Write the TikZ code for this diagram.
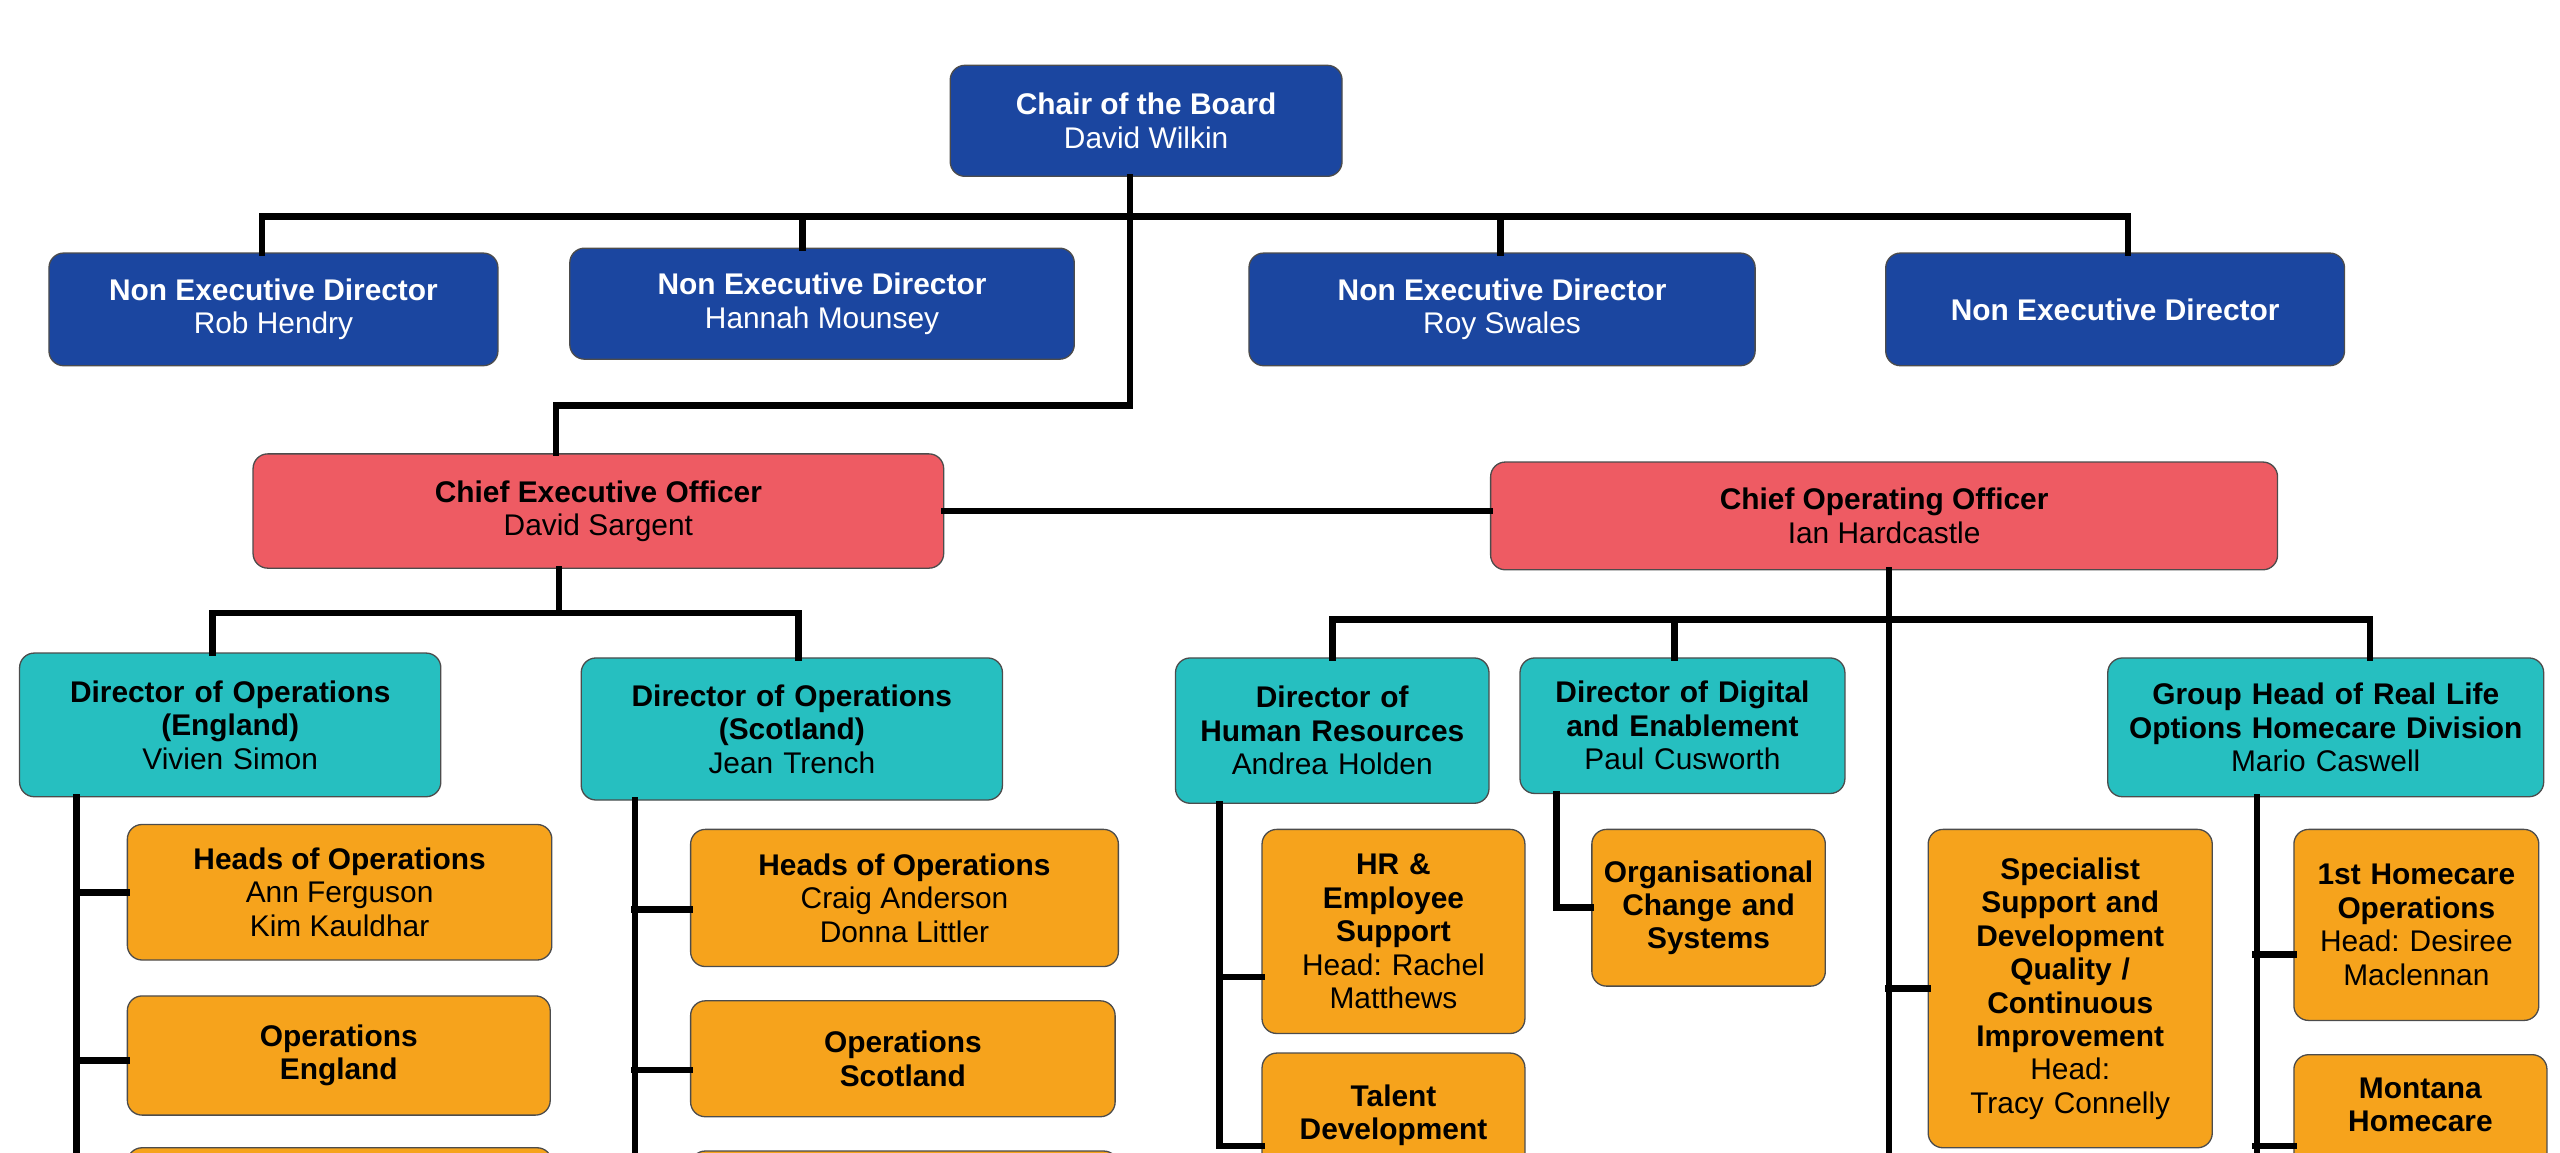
\documentclass[tikz,border=0pt]{standalone}
\usepackage{fontspec}
\setmainfont{Liberation Sans}
\frenchspacing
\definecolor{navy}{HTML}{1B46A0}
\definecolor{cred}{HTML}{EE5B63}
\definecolor{teal}{HTML}{26BFC0}
\definecolor{orng}{HTML}{F6A31C}
\tikzset{
 bx/.style={draw=black!70,line width=0.8pt,rounded corners=9pt,align=center,inner sep=2pt,font=\fontsize{18.3}{20.5}\selectfont},
 nv/.style={bx,fill=navy,text=white},
 rd/.style={bx,fill=cred,text=black},
 tl/.style={bx,fill=teal,text=black},
 og/.style={bx,fill=orng,text=black},
 ln/.style={line width=4pt,line cap=rect}
}
\begin{document}
\begin{tikzpicture}[x=1pt,y=-1pt]
\useasboundingbox (0,0) rectangle (1568,706);
\begin{scope}
\clip (0,0) rectangle (1568,706);
\node[nv,minimum width=240,minimum height=68] (chair) at (702,74) {\textbf{Chair of the Board}\\David Wilkin};
\node[nv,minimum width=275,minimum height=69] (ned1) at (167.5,189.5) {\textbf{Non Executive Director}\\Rob Hendry};
\node[nv,minimum width=309,minimum height=68] (ned2) at (503.5,186) {\textbf{Non Executive Director}\\Hannah Mounsey};
\node[nv,minimum width=310,minimum height=69] (ned3) at (920,189.5) {\textbf{Non Executive Director}\\Roy Swales};
\node[nv,minimum width=281,minimum height=69] (ned4) at (1295.5,189.5) {\textbf{Non Executive Director}};
\node[rd,minimum width=423,minimum height=70] (ceo) at (366.5,313) {\textbf{Chief Executive Officer}\\David Sargent};
\node[rd,minimum width=482,minimum height=66] (coo) at (1154,316) {\textbf{Chief Operating Officer}\\Ian Hardcastle};
\node[tl,minimum width=258,minimum height=88,text width=254] (doe) at (141,444) {\textbf{Director of Operations\\(England)}\\Vivien Simon};
\node[tl,minimum width=258,minimum height=87,text width=254] (dos) at (485,446.5) {\textbf{Director of Operations\\(Scotland)}\\Jean Trench};
\node[tl,minimum width=192,minimum height=89,text width=188] (dhr) at (816,447.5) {\textbf{Director of\\Human Resources}\\Andrea Holden};
\node[tl,minimum width=199,minimum height=83,text width=195] (dde) at (1030.5,444.5) {\textbf{Director of Digital\\and Enablement}\\Paul Cusworth};
\node[tl,minimum width=267,minimum height=85,text width=263] (grp) at (1424.5,445.5) {\textbf{Group Head of Real Life\\Options Homecare Division}\\Mario Caswell};
\node[og,minimum width=260,minimum height=83] (hoe) at (208,546.5) {\textbf{Heads of Operations}\\Ann Ferguson\\Kim Kauldhar};
\node[og,minimum width=259,minimum height=73] (ope) at (207.5,646.5) {\textbf{Operations}\\\textbf{England}};
\node[og,minimum width=260,minimum height=74] (e3) at (208,740) {};
\node[og,minimum width=262,minimum height=84] (hos) at (554,550) {\textbf{Heads of Operations}\\Craig Anderson\\Donna Littler};
\node[og,minimum width=260,minimum height=71] (ops) at (553,648.5) {\textbf{Operations}\\\textbf{Scotland}};
\node[og,minimum width=262,minimum height=74] (s3) at (554,742) {};
\node[og,minimum width=161,minimum height=125,text width=157] (hr) at (853.5,570.5) {\textbf{HR \&\\Employee\\Support}\\Head: Rachel\\Matthews};
\node[og,minimum width=161,minimum height=110] (tal) at (853.5,700) {};
\node[anchor=north,align=center,font=\fontsize{18.3}{20.5}\selectfont,inner sep=0] (talt) at (853.5,664) {\textbf{Talent}\\\textbf{Development}};
\node[og,minimum width=143,minimum height=96,text width=139] (org) at (1046.5,556) {\textbf{Organisational\\Change and\\Systems}};
\node[og,minimum width=174,minimum height=195,text width=170] (spec) at (1268,605.5) {\textbf{Specialist\\Support and\\Development\\Quality /\\Continuous\\Improvement}\\Head:\\Tracy Connelly};
\node[og,minimum width=150,minimum height=117,text width=146] (h1) at (1480,566.5) {\textbf{1st Homecare\\Operations}\\Head: Desiree\\Maclennan};
\node[og,minimum width=155,minimum height=110] (mon) at (1482.5,701) {};
\node[anchor=north,align=center,font=\fontsize{18.3}{20.5}\selectfont,inner sep=0] (mont) at (1482.5,660) {\textbf{Montana}\\\textbf{Homecare}};
% connectors
\draw[ln] ([xshift=-10pt]chair.south) -- ++(0,140) -| ([xshift=-26pt]ceo.north);
\draw[ln] ([xshift=-7pt]ned1.north) -- ++(0,-22) -| ([xshift=8pt]ned4.north);
\draw[ln] ([xshift=-12pt]ned2.north) -- ++(0,-19);
\draw[ln] ([xshift=-1pt]ned3.north) -- ++(0,-22);
\draw[ln] (ceo.east) -- (coo.west |- ceo.east);
\draw[ln] ([xshift=-24pt]ceo.south) -- ++(0,27) coordinate (cb);
\draw[ln] ([xshift=-11pt]doe.north) |- (cb) -| ([xshift=4pt]dos.north);
\draw[ln] (dhr.north) -- ++(0,-23) coordinate (ob1);
\draw[ln] (ob1) -| ([xshift=27pt]grp.north);
\draw[ln] ([xshift=-5pt]dde.north) -- ++(0,-23);
\draw[ln] ([xshift=3pt]coo.south) -- ++(0,360);
\draw[ln] (spec.west) -- ++(-24,0);
\draw[ln] ([xshift=-94pt]doe.south) -- ++(0,230);
\draw[ln] (hoe.west) -- ++(-31,0);
\draw[ln] ([yshift=-3pt]ope.west) -- ++(-31,0);
\draw[ln] ([xshift=-96pt]dos.south) -- ++(0,230);
\draw[ln] ([yshift=-7pt]hos.west) -- ++(-34,0);
\draw[ln] ([yshift=-7pt]ops.west) -- ++(-34,0);
\draw[ln] ([xshift=-69pt]dhr.south) |- ([yshift=-2pt]tal.west);
\draw[ln] ([yshift=-28pt]hr.west) -- ++(-26,0);
\draw[ln] ([xshift=-77pt]dde.south) |- (org.west);
\draw[ln] ([xshift=-42pt]grp.south) -- ++(0,230);
\draw[ln] ([yshift=-18pt]h1.west) -- ++(-23,0);
\draw[ln] ([yshift=-1pt]mon.west) -- ++(-23,0);
\end{scope}
\end{tikzpicture}
\end{document}
